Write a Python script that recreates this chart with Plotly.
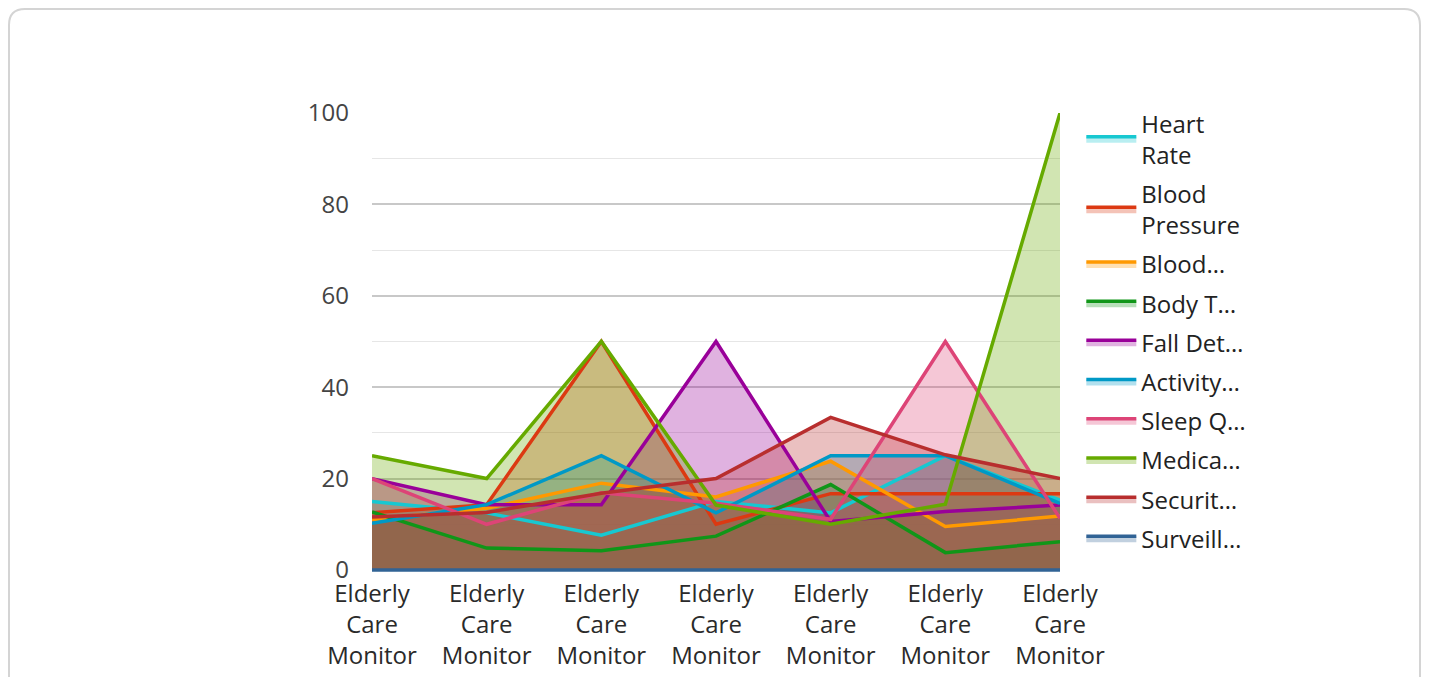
import plotly.graph_objects as go

categories = [f"Elderly Care Monitor {i}" for i in range(1, 8)]
tick_labels = [c.replace(" ", "<br>") for c in categories]

series_names = ["Heart<br>Rate", "Blood<br>Pressure", "Blood…", "Body T…", "Fall Det…",
                "Activity…", "Sleep Q…", "Medica…", "Securit…", "Surveill…"]

heart_rate = [15, 12.5, 7.6, 15, 12.5, 25, 15.3]
blood_pressure = [12.5, 14.3, 50, 10, 16.7, 16.7, 16.7]
blood_oxygen = [11, 13.5, 19, 16, 23.8, 9.5, 11.8]
body_temp = [12.7, 4.8, 4.2, 7.4, 18.7, 3.8, 6.2]
fall_detection = [20, 14.3, 14.3, 50, 10.6, 12.8, 14.2]
activity = [10.2, 14.3, 25, 12.5, 25, 25, 14.6]
sleep_quality = [20, 10, 16.9, 14.6, 11.1, 50, 11.3]
medication = [25, 20, 50, 14.2, 10, 14.4, 100]
security = [11.6, 12.6, 16.8, 20, 33.4, 25.2, 20]
surveillance = [0, 0, 0, 0, 0, 0, 0]

all_series = [heart_rate, blood_pressure, blood_oxygen, body_temp, fall_detection,
              activity, sleep_quality, medication, security, surveillance]

colors = ["#17c8d1", "#dc3912", "#ff9900", "#109618", "#990099",
          "#0099c6", "#dd4477", "#66aa00", "#b82e2e", "#316395"]


def rgba(hex_color, a):
    h = hex_color.lstrip("#")
    r, g, b = int(h[0:2], 16), int(h[2:4], 16), int(h[4:6], 16)
    return f"rgba({r},{g},{b},{a})"


fig = go.Figure()
# legend-only entries (line + fill swatch)
for i, (name, col) in enumerate(zip(series_names, colors)):
    fig.add_trace(go.Scatter(
        x=categories, y=[None] * len(categories), name=name, mode="lines",
        line=dict(color=col, width=3.5), fill="tozeroy", fillcolor=rgba(col, 0.3),
        legendgroup=f"g{i}", showlegend=True, hoverinfo="skip",
    ))
# area fills underneath
for i, (name, vals, col) in enumerate(zip(series_names, all_series, colors)):
    fig.add_trace(go.Scatter(
        x=categories, y=vals, name=name, mode="lines",
        line=dict(color=col, width=0), fill="tozeroy", fillcolor=rgba(col, 0.3),
        legendgroup=f"g{i}", showlegend=False, hoverinfo="skip",
    ))
# lines on top of all fills
for i, (name, vals, col) in enumerate(zip(series_names, all_series, colors)):
    fig.add_trace(go.Scatter(
        x=categories, y=vals, name=name, mode="lines",
        line=dict(color=col, width=3.5),
        legendgroup=f"g{i}", showlegend=False,
    ))

# page body has an 8px margin, so the figure is 16px smaller than the window
W, H = 1413, 669
L, T = 364, 105
pw, ph = 688, 459
R, B = W - L - pw, H - T - ph


def px(x):
    return (x - L) / pw


def py(y):
    return (T + ph - y) / ph


# rounded card border
x0, x1, y0, y1, rad = 1, 1412, 1, 700, 16
path = (f"M {px(x0)},{py(y1)} L {px(x0)},{py(y0 + rad)} "
        f"Q {px(x0)},{py(y0)} {px(x0 + rad)},{py(y0)} "
        f"L {px(x1 - rad)},{py(y0)} Q {px(x1)},{py(y0)} {px(x1)},{py(y0 + rad)} "
        f"L {px(x1)},{py(y1)}")

fig.update_layout(
    width=W, height=H, autosize=False,
    margin=dict(l=L, r=R, t=T, b=B, autoexpand=False),
    paper_bgcolor="white", plot_bgcolor="white",
    font=dict(family="Open Sans", size=24, color="#444"),
    showlegend=True,
    legend=dict(x=1.031, xanchor="left", y=1.026, yanchor="top",
                font=dict(size=24, color="#222"), itemwidth=50,
                tracegroupgap=5, bgcolor="rgba(0,0,0,0)", maxheight=640),
    shapes=[dict(type="path", xref="paper", yref="paper", path=path,
                 line=dict(color="#d4d4d4", width=2), layer="below")],
)
fig.update_xaxes(
    type="category", range=[0, 6], tickvals=categories, ticktext=tick_labels,
    showgrid=False, zeroline=False, showline=False, ticks="", automargin=False,
    tickfont=dict(size=24, color="#2a2a2a"), ticklabelstandoff=5,
)
fig.update_yaxes(
    range=[-0.44, 100], tickvals=[0, 20, 40, 60, 80, 100], showgrid=True,
    gridcolor="#c8c8c8", gridwidth=1.5,
    minor=dict(tickvals=[10, 30, 50, 70, 90], showgrid=True, gridcolor="#e6e6e6", gridwidth=1.2),
    zeroline=False, showline=False, ticks="", ticklabelstandoff=22, automargin=False,
    tickfont=dict(size=24, color="#444"),
)

fig.write_html("out.html")
